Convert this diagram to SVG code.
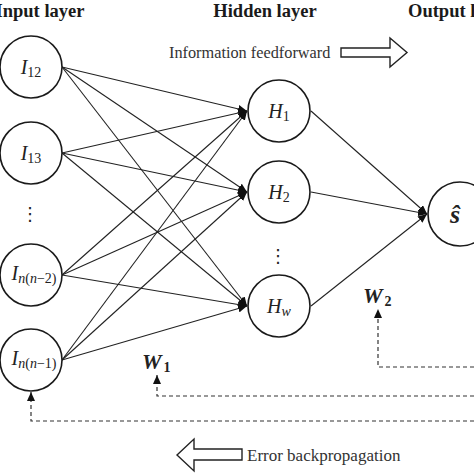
<svg xmlns="http://www.w3.org/2000/svg" width="474" height="474" viewBox="0 0 474 474">
<style>
.node{fill:#fff;stroke:#1a1a1a;stroke-width:1.6}
.lbl{font-family:"Liberation Serif",serif;font-style:italic;font-size:20px;fill:#222;text-anchor:middle}
.sub{font-size:14px;font-style:normal}
.subi{font-size:14px}
.hdr{font-family:"Liberation Serif",serif;font-weight:bold;font-size:18.5px;fill:#1a1a1a}
.txt{font-family:"Liberation Serif",serif;font-size:17px;fill:#333}
.edge{stroke:#222;stroke-width:1.1;fill:none;marker-end:url(#ah)}
.dash{stroke:#333;stroke-width:1.2;fill:none;stroke-dasharray:4 3;marker-end:url(#up)}
.w{font-family:"Liberation Serif",serif;font-weight:bold;font-style:italic;font-size:22px;fill:#222}
.big{fill:#fff;stroke:#222;stroke-width:1.4}
</style>
<defs>
<marker id="ah" markerUnits="userSpaceOnUse" markerWidth="10" markerHeight="8" refX="9" refY="4" orient="auto">
<path d="M0,0 L9,4 L0,8 Z" fill="#111"/>
</marker>
<marker id="up" markerUnits="userSpaceOnUse" markerWidth="9" markerHeight="8" refX="9" refY="4" orient="auto">
<path d="M0,0 L9,4 L0,8 Z" fill="#111"/>
</marker>
</defs>
<rect width="474" height="474" fill="#fff"/>
<text class="hdr" x="40" y="17" text-anchor="middle">Input layer</text>
<text class="hdr" x="265" y="17" text-anchor="middle">Hidden layer</text>
<text class="hdr" x="408" y="17">Output layer</text>
<text class="txt" x="169" y="58" style="font-size:16.3px">Information feedforward</text>
<path class="big" d="M341,48 L390,48 L390,38 L407,52.5 L390,67 L390,57 L341,57 Z"/>
<text class="txt" x="247" y="461">Error backpropagation</text>
<path class="big" d="M242,449 L194,449 L194,439 L177,455 L194,471 L194,460 L242,460 Z"/>
<g id="connectors">
<line class="edge" x1="62" y1="67" x2="247" y2="111"/>
<line class="edge" x1="62" y1="67" x2="247" y2="192"/>
<line class="edge" x1="62" y1="67" x2="247" y2="306"/>
<line class="edge" x1="62" y1="153" x2="247" y2="111"/>
<line class="edge" x1="62" y1="153" x2="247" y2="192"/>
<line class="edge" x1="62" y1="153" x2="247" y2="306"/>
<line class="edge" x1="62" y1="275" x2="247" y2="111"/>
<line class="edge" x1="62" y1="275" x2="247" y2="192"/>
<line class="edge" x1="62" y1="275" x2="247" y2="306"/>
<line class="edge" x1="62" y1="360" x2="247" y2="111"/>
<line class="edge" x1="62" y1="360" x2="247" y2="192"/>
<line class="edge" x1="62" y1="360" x2="247" y2="306"/>
<line class="edge" x1="311" y1="111" x2="427" y2="214"/>
<line class="edge" x1="311" y1="192" x2="427" y2="214"/>
<line class="edge" x1="311" y1="306" x2="427" y2="214"/>
<path class="dash" d="M474,367 L378,367 L378,309"/>
<path class="dash" d="M474,396 L157,396 L157,375"/>
<path class="dash" d="M474,421 L31,421 L31,392"/>
</g>
<g id="I12"><circle class="node" cx="31" cy="67" r="31"/><text class="lbl" x="31" y="74">I<tspan class="sub" dy="3">12</tspan></text></g>
<g id="I13"><circle class="node" cx="31" cy="153" r="31"/><text class="lbl" x="31" y="160">I<tspan class="sub" dy="3">13</tspan></text></g>
<text x="30" y="220" font-family="DejaVu Sans,sans-serif" font-size="18" text-anchor="middle" fill="#222">⋮</text>
<g id="In2"><circle class="node" cx="31" cy="275" r="31"/><text class="lbl" x="34" y="280">I<tspan class="subi" dy="3">n</tspan><tspan class="sub">(</tspan><tspan class="subi">n</tspan><tspan class="sub">−2)</tspan></text></g>
<g id="In1"><circle class="node" cx="31" cy="360" r="31"/><text class="lbl" x="34" y="365">I<tspan class="subi" dy="3">n</tspan><tspan class="sub">(</tspan><tspan class="subi">n</tspan><tspan class="sub">−1)</tspan></text></g>
<g id="H1"><circle class="node" cx="279" cy="111" r="31"/><text class="lbl" x="279" y="118">H<tspan class="sub" dy="3">1</tspan></text></g>
<g id="H2"><circle class="node" cx="279" cy="192" r="31"/><text class="lbl" x="279" y="199">H<tspan class="sub" dy="3">2</tspan></text></g>
<text x="278" y="262" font-family="DejaVu Sans,sans-serif" font-size="18" text-anchor="middle" fill="#222">⋮</text>
<g id="Hw"><circle class="node" cx="279" cy="306" r="31"/><text class="lbl" x="279" y="313">H<tspan class="subi" dy="3">w</tspan></text></g>
<g id="S"><circle class="node" cx="460" cy="214" r="32"/><text class="lbl" x="455" y="223" style="font-weight:bold;font-size:26px">ŝ</text></g>
<text class="w" x="142" y="369">W<tspan font-size="14" font-style="normal" dy="3" dx="2">1</tspan></text>
<text class="w" x="363" y="303">W<tspan font-size="14" font-style="normal" dy="3" dx="2">2</tspan></text>
</svg>
